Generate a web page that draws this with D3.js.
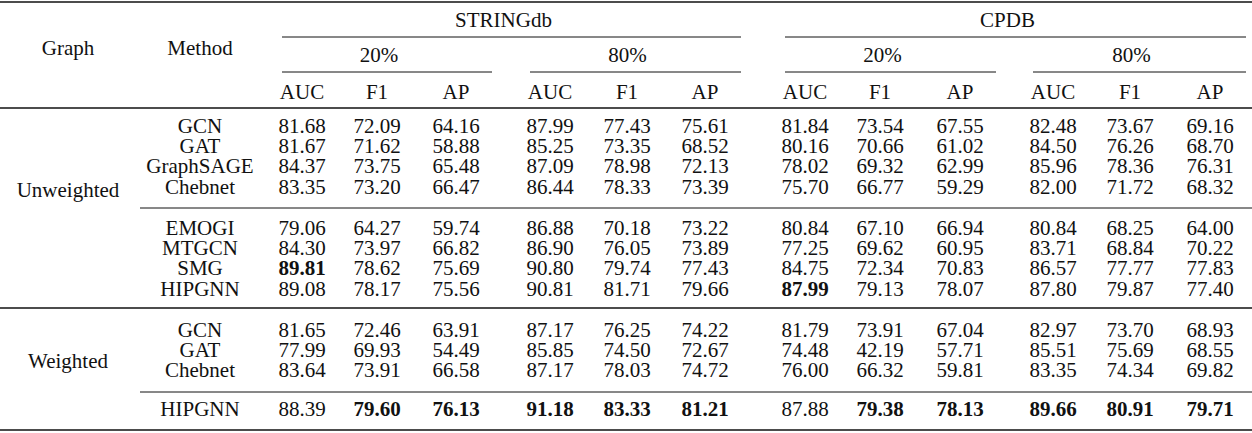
<!DOCTYPE html>
<html><head><meta charset="utf-8">
<script src="https://cdn.jsdelivr.net/npm/d3@7"></script>
<style>body{margin:0;background:#fff}text{font-family:"Liberation Serif","Times New Roman",serif;fill:#111}</style>
</head><body>
<svg id="tbl" width="1252" height="433"></svg>
<script>
var datasets = ["STRINGdb", "CPDB"];
var ratios = ["20%", "80%"];
var metrics = ["AUC", "F1", "AP"];
var groups = ["Unweighted", "Unweighted", "Weighted", "Weighted"];
var groupLabels = ["Unweighted", "Weighted"];
var methods = [
  ["GCN", "GAT", "GraphSAGE", "Chebnet"],
  ["EMOGI", "MTGCN", "SMG", "HIPGNN"],
  ["GCN", "GAT", "Chebnet"],
  ["HIPGNN"]
];
var values = [
  [[81.68,72.09,64.16,87.99,77.43,75.61,81.84,73.54,67.55,82.48,73.67,69.16],
   [81.67,71.62,58.88,85.25,73.35,68.52,80.16,70.66,61.02,84.50,76.26,68.70],
   [84.37,73.75,65.48,87.09,78.98,72.13,78.02,69.32,62.99,85.96,78.36,76.31],
   [83.35,73.20,66.47,86.44,78.33,73.39,75.70,66.77,59.29,82.00,71.72,68.32]],
  [[79.06,64.27,59.74,86.88,70.18,73.22,80.84,67.10,66.94,80.84,68.25,64.00],
   [84.30,73.97,66.82,86.90,76.05,73.89,77.25,69.62,60.95,83.71,68.84,70.22],
   [89.81,78.62,75.69,90.80,79.74,77.43,84.75,72.34,70.83,86.57,77.77,77.83],
   [89.08,78.17,75.56,90.81,81.71,79.66,87.99,79.13,78.07,87.80,79.87,77.40]],
  [[81.65,72.46,63.91,87.17,76.25,74.22,81.79,73.91,67.04,82.97,73.70,68.93],
   [77.99,69.93,54.49,85.85,74.50,72.67,74.48,42.19,57.71,85.51,75.69,68.55],
   [83.64,73.91,66.58,87.17,78.03,74.72,76.00,66.32,59.81,83.35,74.34,69.82]],
  [[88.39,79.60,76.13,91.18,83.33,81.21,87.88,79.38,78.13,89.66,80.91,79.71]]
];
// bold cells: [block, row, col]
var bold = [[1,2,0],[1,3,6],[3,0,1],[3,0,2],[3,0,3],[3,0,4],[3,0,5],[3,0,7],[3,0,8],[3,0,9],[3,0,10],[3,0,11]];

var svg = d3.select("#tbl");
var W = 1252, fs = 21;
var colX = d3.scaleOrdinal().domain(d3.range(12))
  .range([302,377,456,550,627,705,805,880,960,1053,1130,1210]);
var rowY = d3.scaleLinear().domain([0,1]).range([0,20.2]);
var blockTop = [119, 221, 323, 402];

function txt(x, y, s, b) {
  svg.append("text").attr("x", x).attr("y", y).attr("text-anchor", "middle")
    .attr("font-size", fs).attr("font-weight", b ? "bold" : "normal").text(s);
}
function line(x1, x2, y, w) {
  svg.append("line").attr("x1", x1).attr("x2", x2).attr("y1", y).attr("y2", y)
    .attr("stroke", "#111").attr("stroke-width", w);
}

// header
line(0, W, 2, 1.6);
txt(68, 55, "Graph"); txt(200, 55, "Method");
datasets.forEach(function(d, i) {
  var a = colX(i*6), b = colX(i*6+5);
  txt((a+b)/2, 27, d);
  line(a-20, b+36, 37, 1);
  ratios.forEach(function(r, j) {
    var c0 = colX(i*6+j*3), c2 = colX(i*6+j*3+2);
    txt((c0+c2)/2, 62, r);
    line(c0-20, c2+36, 72, 1);
  });
});
d3.range(12).forEach(function(c){ txt(colX(c), 99, metrics[c%3]); });
line(0, W, 108, 1.3);

// body
var isBold = function(b, r, c) { return bold.some(function(k){ return k[0]==b && k[1]==r && k[2]==c; }); };
methods.forEach(function(ms, b) {
  ms.forEach(function(m, r) {
    var y = blockTop[b] + rowY(r) + 14;
    txt(200, y, m);
    values[b][r].forEach(function(v, c){ txt(colX(c), y, v.toFixed(2), isBold(b, r, c)); });
  });
});
line(140, W, 208, 1);
line(0, W, 308, 1.3);
line(140, W, 392, 1);
line(0, W, 430, 1.6);
txt(68, 197, groupLabels[0]);
txt(68, 368, groupLabels[1]);
</script>
</body></html>
